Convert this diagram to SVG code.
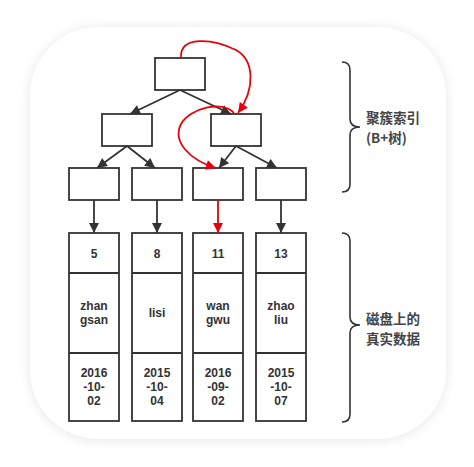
<svg xmlns="http://www.w3.org/2000/svg" width="474" height="467" viewBox="0 0 474 467">
<defs>
<filter id="sh" x="-20%" y="-20%" width="140%" height="140%">
<feGaussianBlur stdDeviation="6"/>
</filter>
<marker id="ah" viewBox="0 0 10 10" refX="10" refY="5" markerWidth="11" markerHeight="10" markerUnits="userSpaceOnUse" orient="auto">
<path d="M0,0 L10,5 L0,10 Z" fill="#333"/>
</marker>
<marker id="ahr" viewBox="0 0 10 10" refX="10" refY="5" markerWidth="11" markerHeight="10" markerUnits="userSpaceOnUse" orient="auto">
<path d="M0,0 L10,5 L0,10 Z" fill="#e8000b"/>
</marker>
<style>
.box{fill:#fff;stroke:#333;stroke-width:1.8}
.ln{fill:none;stroke:#333;stroke-width:1.8;marker-end:url(#ah)}
.rd{fill:none;stroke:#e8000b;stroke-width:1.8;marker-end:url(#ahr)}
.t{font-family:"Liberation Sans",Arial,sans-serif;font-weight:700;font-size:12px;fill:#333;text-anchor:middle}
.lb{font-family:"Noto Sans CJK SC","Noto Sans",sans-serif;font-weight:700;font-size:13.5px;fill:#444}
.br{fill:none;stroke:#333;stroke-width:1.6}
</style>
</defs>
<rect width="474" height="467" fill="#fff"/>
<rect x="30" y="28" width="416" height="412" rx="68" fill="#e6e6e6" filter="url(#sh)"/>
<rect x="30" y="27" width="416" height="412" rx="68" fill="#fff"/>

<g id="root"><rect class="box" x="155" y="58" width="50" height="32"/></g>
<g id="l2a"><rect class="box" x="102" y="114" width="50" height="32"/></g>
<g id="l2b"><rect class="box" x="211" y="114" width="50" height="32"/></g>
<g id="l3a"><rect class="box" x="69" y="168" width="50" height="32"/></g>
<g id="l3b"><rect class="box" x="132" y="168" width="50" height="32"/></g>
<g id="l3c"><rect class="box" x="193" y="168" width="50" height="32"/></g>
<g id="l3d"><rect class="box" x="256" y="168" width="50" height="32"/></g>

<g id="d1">
<rect class="box" x="69" y="233" width="50" height="188"/>
<line x1="69" y1="273" x2="119" y2="273" stroke="#333" stroke-width="1.8"/>
<line x1="69" y1="353" x2="119" y2="353" stroke="#333" stroke-width="1.8"/>
<text class="t" x="94" y="258">5</text>
<text class="t" x="94" y="310">zhan<tspan x="94" dy="14.2">gsan</tspan></text>
<text class="t" x="94" y="377">2016<tspan x="94" dy="14.2">-10-</tspan><tspan x="94" dy="14.2">02</tspan></text>
</g>
<g id="d2">
<rect class="box" x="132" y="233" width="50" height="188"/>
<line x1="132" y1="273" x2="182" y2="273" stroke="#333" stroke-width="1.8"/>
<line x1="132" y1="353" x2="182" y2="353" stroke="#333" stroke-width="1.8"/>
<text class="t" x="157" y="258">8</text>
<text class="t" x="157" y="317">lisi</text>
<text class="t" x="157" y="377">2015<tspan x="157" dy="14.2">-10-</tspan><tspan x="157" dy="14.2">04</tspan></text>
</g>
<g id="d3">
<rect class="box" x="193" y="233" width="50" height="188"/>
<line x1="193" y1="273" x2="243" y2="273" stroke="#333" stroke-width="1.8"/>
<line x1="193" y1="353" x2="243" y2="353" stroke="#333" stroke-width="1.8"/>
<text class="t" x="218" y="258">11</text>
<text class="t" x="218" y="310">wan<tspan x="218" dy="14.2">gwu</tspan></text>
<text class="t" x="218" y="377">2016<tspan x="218" dy="14.2">-09-</tspan><tspan x="218" dy="14.2">02</tspan></text>
</g>
<g id="d4">
<rect class="box" x="256" y="233" width="50" height="188"/>
<line x1="256" y1="273" x2="306" y2="273" stroke="#333" stroke-width="1.8"/>
<line x1="256" y1="353" x2="306" y2="353" stroke="#333" stroke-width="1.8"/>
<text class="t" x="281" y="258">13</text>
<text class="t" x="281" y="310">zhao<tspan x="281" dy="14.2">liu</tspan></text>
<text class="t" x="281" y="377">2015<tspan x="281" dy="14.2">-10-</tspan><tspan x="281" dy="14.2">07</tspan></text>
</g>

<g id="connectors">
<line class="ln" x1="180" y1="90" x2="130" y2="114"/>
<line class="ln" x1="180" y1="90" x2="231" y2="114"/>
<line class="ln" x1="127" y1="146" x2="97" y2="168"/>
<line class="ln" x1="127" y1="146" x2="155" y2="168"/>
<line class="ln" x1="236" y1="146" x2="219" y2="168"/>
<line class="ln" x1="236" y1="146" x2="277" y2="168"/>
<line class="ln" x1="94" y1="200" x2="94" y2="233"/>
<line class="ln" x1="157" y1="200" x2="157" y2="233"/>
<line class="ln" x1="281" y1="200" x2="281" y2="233"/>
<line class="rd" x1="218" y1="200" x2="218" y2="233"/>
<path class="rd" d="M181,57 C180,36 212,38 236,50 C254,60 256,88 238,113"/>
<path class="rd" d="M234,113 C222,100 190,108 181,124 C172,142 190,160 216,168"/>
</g>

<g id="brace1">
<path class="br" d="M342,62 Q350,62 350,70 L350,119 Q350,127 360,127 Q350,127 350,135 L350,184 Q350,192 342,192"/>
<text class="lb" x="366" y="123">聚簇索引<tspan x="366" dy="19.5">(B+树)</tspan></text>
</g>
<g id="brace2">
<path class="br" d="M342,233 Q350,233 350,241 L350,317 Q350,325 360,325 Q350,325 350,333 L350,414 Q350,422 342,422"/>
<text class="lb" x="366" y="324">磁盘上的<tspan x="366" dy="19.5">真实数据</tspan></text>
</g>
</svg>
